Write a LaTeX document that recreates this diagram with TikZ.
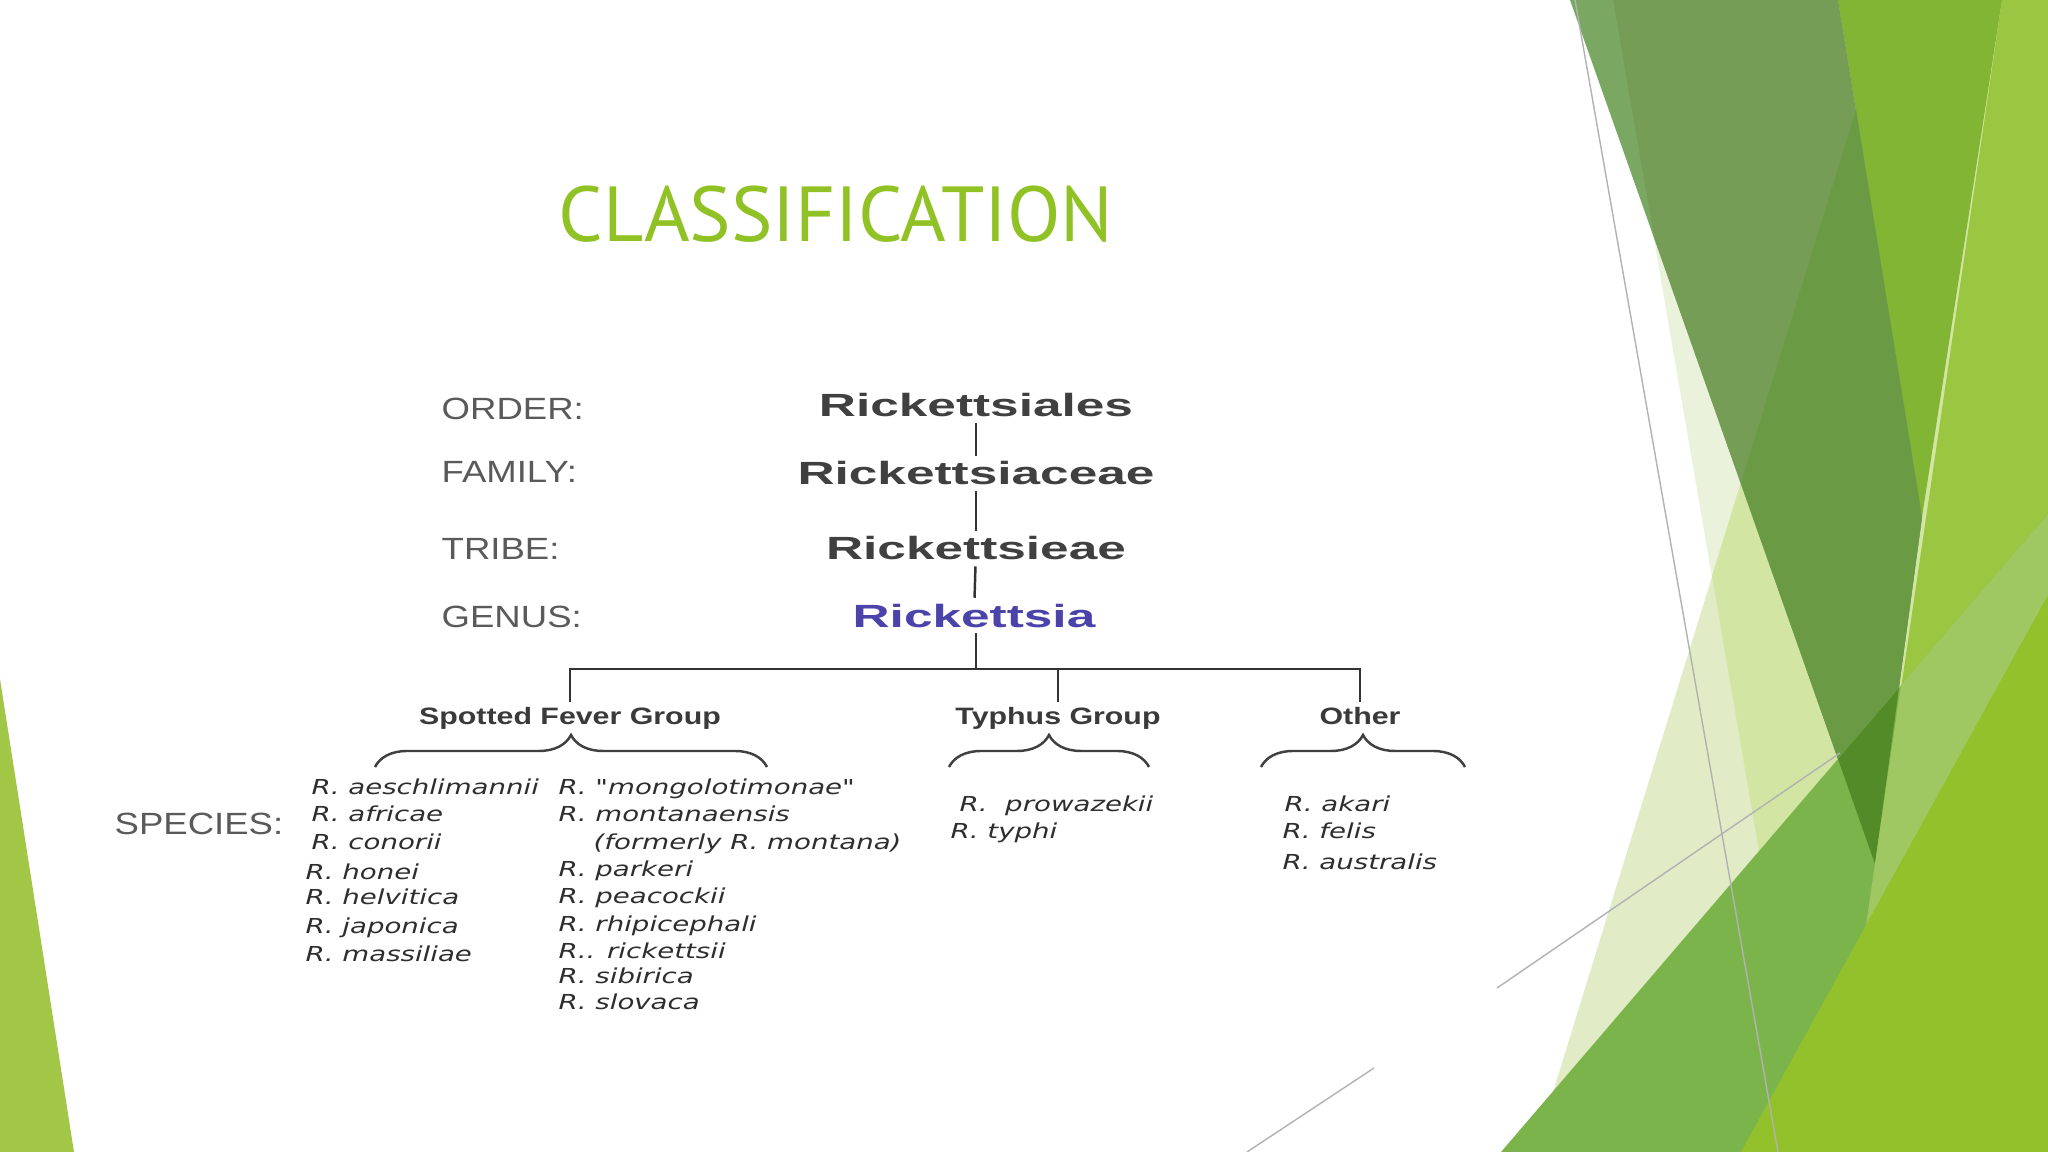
\documentclass[tikz,border=0pt]{standalone}
\usepackage{fontspec}
\usetikzlibrary{positioning, decorations.pathreplacing}

\newfontfamily\titlefont{PT Sans}
\newfontfamily\rankfont[FakeStretch=1.19]{Liberation Sans}
\newfontfamily\taxonfont[FakeStretch=1.6]{Liberation Sans}
\newfontfamily\groupfont[FakeStretch=1.28]{Liberation Sans}
\newfontfamily\speciesfont[FakeStretch=1.34]{DejaVu Sans}

\definecolor{titlegreen}{HTML}{90C226}
\definecolor{rankgray}{HTML}{5A5A5A}
\definecolor{taxongray}{HTML}{404040}
\definecolor{genusblue}{HTML}{4B42AA}
\definecolor{palestrip}{HTML}{EAF2DC}
\definecolor{palegreen}{HTML}{E1EBC6}
\definecolor{midpale}{HTML}{D2E5A3}
\definecolor{lightgreen}{HTML}{9BC641}
\definecolor{brightgreen}{HTML}{82B533}
\definecolor{oliveband}{HTML}{7AA862}
\definecolor{olive}{HTML}{769D56}
\definecolor{darkolive}{HTML}{6A9A43}
\definecolor{bandgreen}{HTML}{7CB44C}
\definecolor{deepgreen}{HTML}{528B27}
\definecolor{softgreen}{HTML}{9FC862}
\definecolor{limegreen}{HTML}{93C12C}
\definecolor{leftgreen}{HTML}{A2C645}

\begin{document}
\begin{tikzpicture}[x=0.01cm, y=-0.01cm,
    rank/.style={anchor=base west, inner sep=0pt, text=rankgray,
        font=\fontsize{8.73}{10}\rankfont},
    taxon/.style={anchor=base, inner sep=1.5pt, text=taxongray,
        font=\fontsize{9.13}{11}\taxonfont\bfseries},
    group/.style={anchor=base, inner sep=1.5pt, text=taxongray!90!black,
        font=\fontsize{6.74}{8}\groupfont\bfseries},
    species/.style={anchor=base west, inner sep=0pt, text=black!82,
        font=\fontsize{5.86}{7}\speciesfont\itshape},
    link/.style={draw=black!80, line width=0.7pt},
    brace/.style={draw=black!75, line width=0.7pt, decorate,
        decoration={brace, amplitude=0.32cm}},
    thinline/.style={draw=black!30, line width=0.4pt}]

    % Slide background
    \useasboundingbox (0,0) rectangle (2048,1152);
    \fill[white] (0,0) rectangle (2048,1152);
    \fill[leftgreen] (0,679) -- (74,1152) -- (0,1152) -- cycle;

    % Facets on the right
    \fill[palestrip] (1613,0) -- (1759,851) -- (2048,514) -- (2048,0) -- cycle;
    \fill[palegreen] (1890,0) -- (1553,1092) -- (2048,514) -- (2048,0) -- cycle;
    \fill[midpale] (1890,0) -- (1712,576) -- (1759,851) -- (2048,514) -- (2048,0) -- cycle;
    \fill[lightgreen] (2002,0) -- (2048,0) -- (2048,1152) -- (1833,1152) -- cycle;
    \fill[brightgreen] (1838,0) -- (2002,0) -- (1922,517) -- cycle;
    \fill[oliveband] (1570,0) -- (1838,0) -- (1922,517) -- (1875,864) -- cycle;
    \fill[olive] (1613,0) -- (1838,0) -- (1922,517) -- (1875,864) -- (1654,237) -- cycle;
    \fill[darkolive] (1856,110) -- (1922,517) -- (1875,864) -- (1741,483) -- cycle;
    \fill[bandgreen] (1501,1152) -- (2048,514) -- (2048,1152) -- cycle;
    \fill[deepgreen] (1838,759) -- (1899,688) -- (1875,864) -- cycle;
    \fill[softgreen] (1901,685) -- (2048,514) -- (2048,1152) -- (1833,1152) -- cycle;
    \fill[limegreen] (1741,1152) -- (2048,595) -- (2048,1152) -- cycle;
    \draw[thinline] (1575,0) -- (1778,1152);
    \draw[thinline] (1497,988) -- (1840,753);
    \draw[thinline] (1247,1152) -- (1374,1068);

    % Title
    \node[anchor=base, text=titlegreen, font=\fontsize{22.2}{27}\titlefont]
        (title) at (836,242) {CLASSIFICATION};

    % Ranks
    \node[rank] (lorder) at (441,420) {ORDER:};
    \node[rank] (lfamily) at (441,483) {FAMILY:};
    \node[rank] (ltribe) at (441,560) {TRIBE:};
    \node[rank] (lgenus) at (441,627) {GENUS:};
    \node[rank] (lspecies) at (114,834) {SPECIES:};

    % Taxa
    \node[taxon] (order) at (976,417) {Rickettsiales};
    \node[taxon] (family) at (976,485) {Rickettsiaceae};
    \node[taxon] (tribe) at (976,560) {Rickettsieae};
    \node[taxon, text=genusblue] (genus) at (974,627) {Rickettsia};

    % Groups
    \node[group] (spotted) at (570,725) {Spotted Fever Group};
    \node[group] (typhus) at (1058,725) {Typhus Group};
    \node[group] (other) at (1360,725) {Other};

    % Tree
    \coordinate (bar) at (976,669);
    \draw[link] (order) -- (family);
    \draw[link] (family) -- (tribe);
    \draw[link] (tribe) -- (genus);
    \draw[link] (genus.south -| bar) -- (bar);
    \draw[link] (spotted.north) -- (spotted.north |- bar) -- (other.north |- bar) -- (other.north);
    \draw[link] (typhus.north) -- (typhus.north |- bar);

    % Braces
    \draw[brace] (375,767) -- (767,767);
    \draw[brace] (949,767) -- (1149,767);
    \draw[brace] (1261,767) -- (1465,767);

    % Species
    \foreach \x/\y/\t [count=\i] in {311/794/{R. aeschlimannii}, 311/821/{R. africae},
        311/849/{R. conorii}, 305/879/{R. honei}, 305/904/{R. helvitica},
        305/933/{R. japonica}, 305/961/{R. massiliae}}
        \node[species] (spa\i) at (\x,\y) {\t};
    \foreach \x/\y/\t [count=\i] in {558/794/{R. "mongolotimonae"}, 558/821/{R. montanaensis},
        593/849/{(formerly R. montana)}, 558/876/{R. parkeri}, 558/903/{R. peacockii},
        558/931/{R. rhipicephali}, 558/958/{R.. rickettsii}, 558/983/{R. sibirica},
        558/1009/{R. slovaca}}
        \node[species] (spb\i) at (\x,\y) {\t};
    \foreach \x/\y/\t [count=\i] in {959/811/{R.~\ prowazekii}, 950/838/{R. typhi}}
        \node[species] (spt\i) at (\x,\y) {\t};
    \foreach \x/\y/\t [count=\i] in {1284/811/{R. akari}, 1282/838/{R. felis},
        1282/869/{R. australis}}
        \node[species] (spo\i) at (\x,\y) {\t};
\end{tikzpicture}
\end{document}
